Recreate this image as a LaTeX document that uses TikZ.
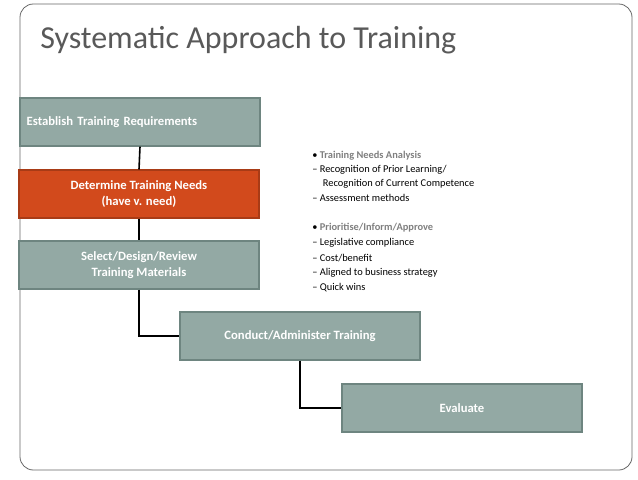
\documentclass[tikz,border=0pt]{standalone}
\usepackage{fontspec}
\setmainfont{Carlito}
\definecolor{boxgray}{HTML}{93A9A4}
\definecolor{boxedge}{HTML}{6E8580}
\definecolor{orng}{HTML}{D24A1C}
\definecolor{ttl}{HTML}{595959}
\definecolor{hd}{HTML}{7F7F7F}
\begin{document}
\begin{tikzpicture}[x=0.75pt,y=-0.75pt,
  stepbox/.style={draw=boxedge,line width=0.8pt,fill=boxgray,text=white,font=\bfseries\fontsize{9.5}{12}\selectfont,align=center,minimum height=36pt,minimum width=180pt,inner sep=2pt},
  conn/.style={draw=black,line width=1.2pt},
  lst/.style={anchor=west,font=\fontsize{7.8}{9}\selectfont,inner sep=0pt}]
\useasboundingbox (0,0) rectangle (638,479);
\draw[draw=black!60,line width=0.6pt,rounded corners=10pt] (20,4) rectangle (632,470);
\node[anchor=west,text=ttl,font=\fontsize{24}{28}\selectfont,inner sep=0pt] (title) at (40,40) {Systematic Approach to Training};
\node[stepbox,minimum width=180pt,text width=170pt,align=left] (b1) at (140,122) {Establish Training Requirements};
\node[stepbox,fill=orng,draw=orng!80!black] (b2) at (139,194) {Determine Training Needs\\(have v. need)};
\node[stepbox] (b3) at (139,265) {Select/Design/Review\\Training Materials};
\node[stepbox] (b4) at (300,336) {Conduct/Administer Training};
\node[stepbox] (b5) at (462,408) {Evaluate};
\draw[conn] (b1.south) -- (b2.north);
\draw[conn] (b2.south) -- (b3.north);
\draw[conn] (b3.south) |- (b4.west);
\draw[conn] (b4.south) |- (b5.west);
\node[lst] (l1) at (312,156) {\textbullet\ \textcolor{hd}{\bfseries Training Needs Analysis}};
\node[lst] (l2) at (312,170) {-- Recognition of Prior Learning/};
\node[lst] (l3) at (318,184) {\ \ Recognition of Current Competence};
\node[lst] (l4) at (312,198) {-- Assessment methods};
\node[lst] (l5) at (312,228) {\textbullet\ \textcolor{hd}{\bfseries Prioritise/Inform/Approve}};
\node[lst] (l6) at (312,243) {-- Legislative compliance};
\node[lst] (l7) at (312,258) {-- Cost/benefit};
\node[lst] (l8) at (312,273) {-- Aligned to business strategy};
\node[lst] (l9) at (312,288) {-- Quick wins};
\end{tikzpicture}
\end{document}
